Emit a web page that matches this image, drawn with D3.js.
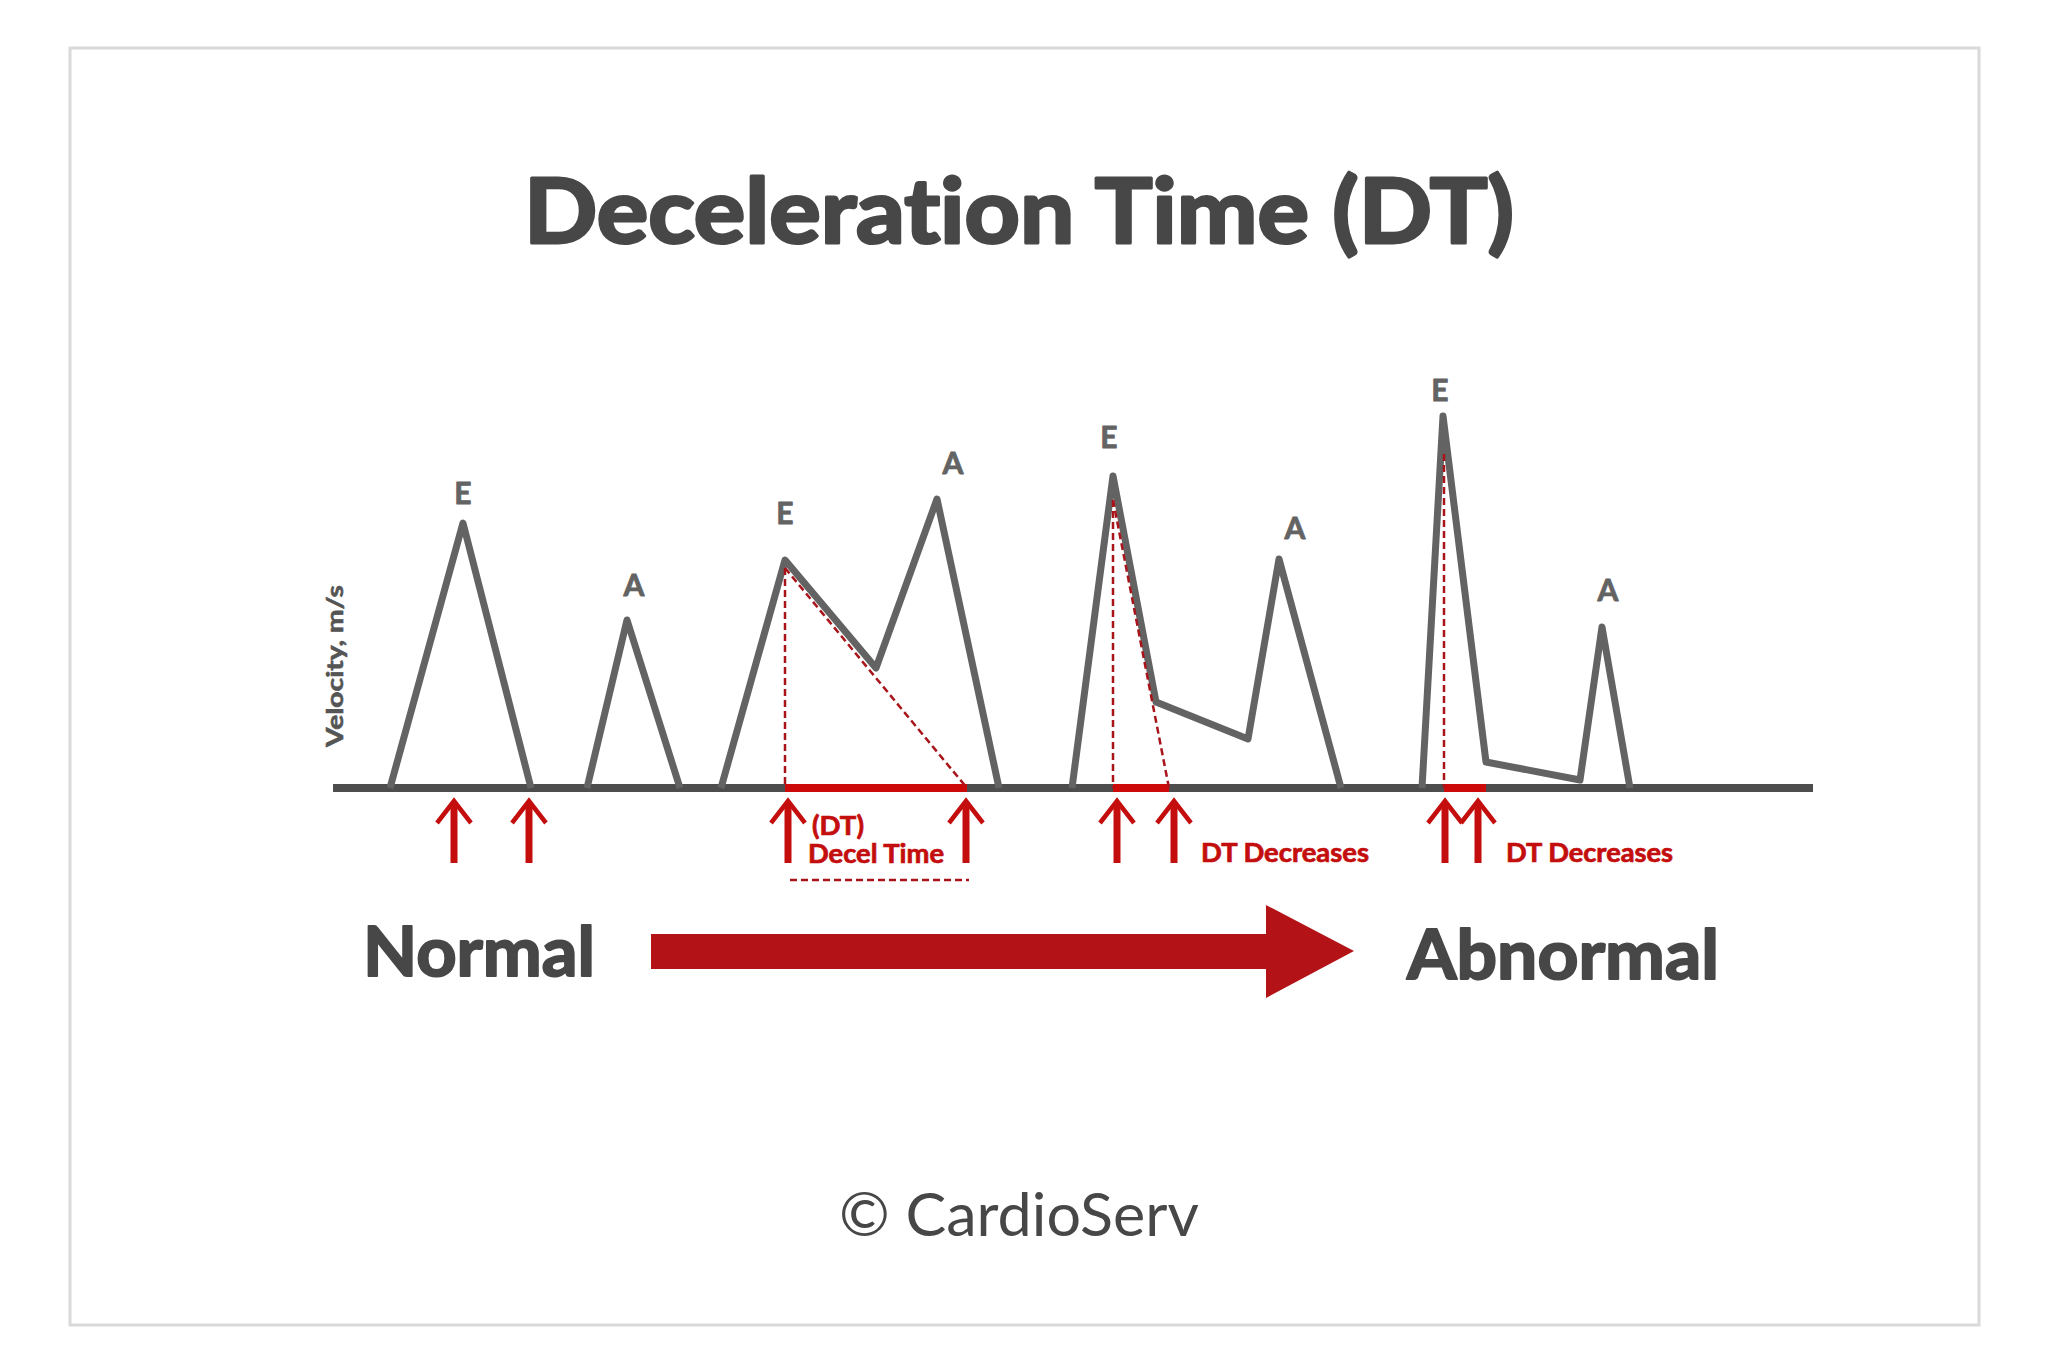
<!DOCTYPE html>
<html>
<head>
<meta charset="utf-8">
<script src="https://cdn.jsdelivr.net/npm/d3@7"></script>
<style>
  html, body { margin: 0; padding: 0; background: #fff; }
  svg { display: block; }
  text { font-family: "Lato", "Open Sans", sans-serif; font-variant-ligatures: none; font-feature-settings: "liga" 0; }
</style>
</head>
<body>
<div id="chart"></div>
<script>
// Doppler mitral inflow sketch: time (ms-ish units) vs velocity (arbitrary units)
const waveTimes = [
    [57, 130, 198],
    [254, 294, 347],
    [388, 452, 543, 604, 666],
    [739, 780, 823, 915, 946, 1008],
    [1089, 1110, 1153, 1247, 1269, 1297]
];
const waveVelocity = [
    [0, 265, 0],
    [0, 168, 0],
    [0, 228, 120, 289, 0],
    [0, 312, 86, 49, 229, 0],
    [0, 372, 26, 8, 161, 0]
];

const peakLabels = ['E', 'A', 'E', 'A', 'E', 'A', 'E', 'A'];
const peakLabelTime = [130, 301, 452, 620, 776, 962, 1107, 1275];
const peakLabelVel = [284, 192, 264, 314, 340, 249, 387, 187];

// deceleration time markers (start at E peak, end where slope meets baseline)
const dtStart = [452, 780, 1111];
const dtEnd = [634, 836, 1153];
const dtPeakVel = [220, 288, 334];
const dtDiagonal = [true, true, false];

const arrowTimes = [121, 196, 455, 633, 784, 841, 1112, 1145];

const W = 2048, H = 1366;
const gray = '#636363', dark = '#474747', red = '#c40d0d', darkRed = '#a8141a';

const svg = d3.select('#chart').append('svg')
    .attr('width', W).attr('height', H);

svg.append('rect').attr('width', W).attr('height', H).attr('fill', '#fff');
svg.append('rect')
    .attr('x', 70).attr('y', 48).attr('width', 1909).attr('height', 1277)
    .attr('fill', 'none').attr('stroke', '#d9d9d9').attr('stroke-width', 3);

const x = d3.scaleLinear().domain([0, 1480]).range([333, 1813]);
const y = d3.scaleLinear().domain([0, 400]).range([788, 388]);

// heavy text helper: bold face plus a thin outline in the same colour
const heavy = (sel, col, sw) => sel.style('fill', col).style('stroke', col)
    .style('stroke-width', sw).style('stroke-linejoin', 'round').style('font-weight', 700);

// title
heavy(svg.append('text')
    .attr('x', 1019).attr('y', 243)
    .attr('text-anchor', 'middle')
    .attr('textLength', 990).attr('lengthAdjust', 'spacingAndGlyphs')
    .style('font-size', '90px')
    .text('Deceleration Time (DT)'), dark, 3);

// y axis label
heavy(svg.append('text')
    .attr('transform', 'translate(343,666) rotate(-90)')
    .attr('text-anchor', 'middle')
    .attr('textLength', 162).attr('lengthAdjust', 'spacingAndGlyphs')
    .style('font-size', '22px')
    .text('Velocity, m/s'), '#555', 0.6);

// baseline
svg.append('line')
    .attr('x1', x(0)).attr('x2', x(1480))
    .attr('y1', y(0)).attr('y2', y(0))
    .attr('stroke', '#4d4d4d').attr('stroke-width', 8);

// red DT bars on baseline
svg.selectAll('.dtbar').data(dtStart).enter().append('line')
    .attr('class', 'dtbar')
    .attr('x1', d => x(d)).attr('x2', (d, i) => x(dtEnd[i]))
    .attr('y1', y(0)).attr('y2', y(0))
    .attr('stroke', '#cc0a0a').attr('stroke-width', 8);

// waveform
const line = d3.line().x(d => x(d[0])).y(d => y(d[1]));
svg.selectAll('.wave').data(waveTimes.map((ts, i) => ts.map((t, j) => [t, waveVelocity[i][j]])))
    .enter().append('path')
    .attr('class', 'wave')
    .attr('d', line)
    .attr('fill', 'none').attr('stroke', gray)
    .attr('stroke-width', 7).attr('stroke-linejoin', 'round').attr('stroke-linecap', 'butt');

// dashed construction lines
dtStart.forEach((t, i) => {
    svg.append('line')
        .attr('x1', x(t)).attr('x2', x(t))
        .attr('y1', y(dtPeakVel[i])).attr('y2', y(0))
        .attr('stroke', darkRed).attr('stroke-width', 2.5).attr('stroke-dasharray', '7,4');
    if (dtDiagonal[i]) {
        svg.append('line')
            .attr('x1', x(t)).attr('x2', x(dtEnd[i]))
            .attr('y1', y(dtPeakVel[i])).attr('y2', y(0))
            .attr('stroke', darkRed).attr('stroke-width', 2.5).attr('stroke-dasharray', '7,4');
    }
});

// E / A labels
heavy(svg.selectAll('.peak').data(peakLabels).enter().append('text')
    .attr('class', 'peak')
    .attr('x', (d, i) => x(peakLabelTime[i]))
    .attr('y', (d, i) => y(peakLabelVel[i]))
    .attr('text-anchor', 'middle')
    .style('font-size', '30px')
    .text(d => d), gray, 0.8);

// red up arrows
const arrows = svg.selectAll('.arrow').data(arrowTimes).enter().append('g')
    .attr('class', 'arrow')
    .attr('transform', d => `translate(${x(d)},0)`);
arrows.append('line')
    .attr('x1', 0).attr('x2', 0).attr('y1', 804).attr('y2', 863)
    .attr('stroke', red).attr('stroke-width', 7);
arrows.append('path')
    .attr('d', 'M-17,823 L0,801 L17,823')
    .attr('fill', 'none').attr('stroke', red).attr('stroke-width', 4.5);

// annotations
const note = (tx, ty, txt, len) => heavy(svg.append('text')
    .attr('x', tx).attr('y', ty)
    .attr('textLength', len).attr('lengthAdjust', 'spacingAndGlyphs')
    .style('font-size', '26px')
    .text(txt), red, 0.7);
note(812, 835, '(DT)', 52);
note(808, 863, 'Decel Time', 136);
note(1201, 862, 'DT Decreases', 168);
note(1506, 862, 'DT Decreases', 167);

svg.append('line')
    .attr('x1', 790).attr('x2', x(dtEnd[0]) + 2)
    .attr('y1', 880).attr('y2', 880)
    .attr('stroke', darkRed).attr('stroke-width', 2.5).attr('stroke-dasharray', '7,4');

// Normal -> Abnormal
heavy(svg.append('text')
    .attr('x', 363).attr('y', 976)
    .attr('textLength', 232).attr('lengthAdjust', 'spacingAndGlyphs')
    .style('font-size', '69px')
    .text('Normal'), dark, 2);
heavy(svg.append('text')
    .attr('x', 1407).attr('y', 979)
    .attr('textLength', 312).attr('lengthAdjust', 'spacingAndGlyphs')
    .style('font-size', '69px')
    .text('Abnormal'), dark, 2);

svg.append('path')
    .attr('d', 'M651,934 L1266,934 L1266,905 L1354,951 L1266,998 L1266,969 L651,969 Z')
    .attr('fill', '#b31217');

// footer
svg.append('text')
    .attr('x', 839).attr('y', 1236)
    .attr('textLength', 360).attr('lengthAdjust', 'spacingAndGlyphs')
    .style('font-size', '60px').style('font-weight', 400).style('fill', dark)
    .text('© CardioServ');
</script>
</body>
</html>
